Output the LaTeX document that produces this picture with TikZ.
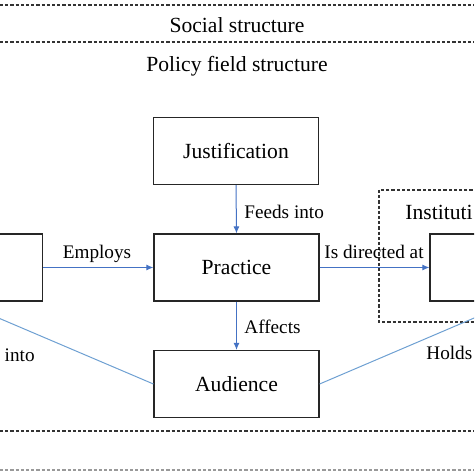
\documentclass[tikz,border=0pt]{standalone}
\usepackage{fontspec}
\setmainfont{Liberation Serif}
\usetikzlibrary{arrows.meta}
\definecolor{arrowblue}{RGB}{68,114,196}
\definecolor{lineblue}{RGB}{110,160,210}
\tikzset{
  box/.style={draw=black!85, line width=0.6pt, minimum width=82.5pt, minimum height=33.5pt, inner sep=0pt, font=\fontsize{10.8}{12}\selectfont},
  hdr/.style={font=\fontsize{10.8}{12}\selectfont, inner sep=0pt},
  lbl/.style={font=\fontsize{9.6}{11}\selectfont, inner sep=0pt},
  flow/.style={draw=arrowblue, line width=0.5pt, -{Latex[length=3.5pt,width=3pt]}},
  link/.style={draw=lineblue, line width=0.5pt},
  sep/.style={draw=black!80, line width=0.6pt, dash pattern=on 1.6pt off 1pt},
  sepl/.style={draw=black!40, line width=0.9pt, dash pattern=on 1.6pt off 1pt},
}
\begin{document}
\begin{tikzpicture}[x=0.5pt,y=-0.5pt]
\path[use as bounding box] (0,0) rectangle (474,474);
% separators
\coordinate (s1a) at (0,5); \coordinate (s1b) at (474,5);
\coordinate (s2a) at (0,42); \coordinate (s2b) at (474,42);
\coordinate (s3a) at (0,431); \coordinate (s3b) at (474,431);
\coordinate (s4a) at (0,470); \coordinate (s4b) at (474,470);
\begin{scope}
\clip (0,0) rectangle (474,474);
\draw[sep, line width=1pt] (s1a) -- (s1b);
\draw[sep] (s2a) -- (s2b);
\draw[sep] (s3a) -- (s3b);
\draw[sepl] (s4a) -- (s4b);
\node[hdr] (social) at (237,25) {Social structure};
\node[hdr] (policy) at (237,66) {Policy field structure};
% institution dashed box
\draw[sep] (379,190) rectangle (650,322);
\node[hdr, anchor=west] (inst) at (405,212) {Instituti};
% boxes
\node[box] (just) at (236,151) {Justification};
\node[box] (prac) at (236.5,267.5) {Practice};
\node[box] (aud) at (236.5,384) {Audience};
\node[box] (left) at (-40,267.5) {};
\node[box] (right) at (512.5,267.5) {};
% connectors
\draw[flow] (just.south) -- (prac.north);
\draw[flow] (prac.south) -- (aud.north);
\draw[flow] (left.east) -- (prac.west);
\draw[flow] (prac.east) -- (right.west);
\draw[link] (left.south) -- (aud.west);
\draw[link] (aud.east) -- (right.south);
% labels
\node[lbl] (employs) at (97,254) {Employs};
\node[lbl, anchor=west] (feeds) at (244,212) {Feeds into};
\node[lbl] (directed) at (374,252) {Is directed at};
\node[lbl, anchor=west] (affects) at (244,327) {Affects};
\node[lbl, anchor=east] (into) at (35,355) {into};
\node[lbl, anchor=west] (holds) at (426,353) {Holds};
\end{scope}
\end{tikzpicture}
\end{document}
